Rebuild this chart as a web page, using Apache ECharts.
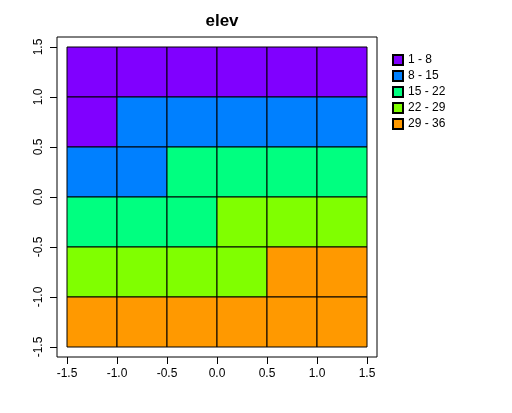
<!DOCTYPE html>
<html>
<head>
<meta charset="utf-8">
<script src="https://cdn.jsdelivr.net/npm/echarts@6/dist/echarts.min.js"></script>
<style>html,body{margin:0;background:#fff}#main{width:512px;height:413px}</style>
</head>
<body>
<div id="main"></div>
<script>
// class index per cell, rows from top (y 1.5) to bottom (y -1.5)
var grid = [
  [0, 0, 0, 0, 0, 0],
  [0, 1, 1, 1, 1, 1],
  [1, 1, 2, 2, 2, 2],
  [2, 2, 2, 3, 3, 3],
  [3, 3, 3, 3, 4, 4],
  [4, 4, 4, 4, 4, 4]
];
var classNames = ['1 - 8', '8 - 15', '15 - 22', '22 - 29', '29 - 36'];
var classColors = ['#8000ff', '#0080ff', '#00ff80', '#80ff00', '#ff9900'];
var ticks = [-1.5, -1.0, -0.5, 0.0, 0.5, 1.0, 1.5];
var cellSize = 0.5;

var series = classNames.map(function (name, k) {
  var data = [];
  grid.forEach(function (row, r) {
    row.forEach(function (c, col) {
      if (c === k) data.push([-1.5 + col * cellSize, 1.5 - r * cellSize]);
    });
  });
  return {
    name: name,
    type: 'custom',
    itemStyle: { color: classColors[k], borderColor: '#000', borderWidth: 1 },
    renderItem: function (params, api) {
      var p0 = api.coord([api.value(0), api.value(1)]);
      var p1 = api.coord([api.value(0) + cellSize, api.value(1) - cellSize]);
      return {
        type: 'rect',
        shape: { x: p0[0], y: p0[1], width: p1[0] - p0[0], height: p1[1] - p0[1] },
        style: { fill: classColors[k], stroke: '#000', lineWidth: 1 }
      };
    },
    data: data
  };
});

function axis(isY) {
  return {
    type: 'value', min: -1.6, max: 1.6,
    axisLine: { show: false, onZero: false },
    splitLine: { show: false },
    axisTick: { show: true, length: 7, customValues: ticks, lineStyle: { color: '#000' } },
    axisLabel: {
      customValues: ticks, color: '#000', fontSize: 12, fontFamily: 'Liberation Sans',
      rotate: isY ? 90 : 0, margin: isY ? 12 : 11,
      formatter: function (v) { return v.toFixed(1); }
    }
  };
}

var chart = echarts.init(document.getElementById('main'));
chart.setOption({
  animation: false,
  title: { text: 'elev', left: 217, top: 8, textAlign: 'center',
    textStyle: { fontSize: 17, fontWeight: 'bold', color: '#000', fontFamily: 'Liberation Sans' } },
  grid: { left: 57, right: 135, top: 37, bottom: 56, show: true, borderColor: '#000', borderWidth: 1 },
  xAxis: axis(false),
  yAxis: axis(true),
  legend: {
    orient: 'vertical', left: 387, top: 49, icon: 'rect', itemWidth: 10, itemHeight: 10,
    itemGap: 4, textStyle: { fontSize: 12, color: '#000', fontFamily: 'Liberation Sans' },
    data: classNames
  },
  series: series
});
</script>
</body>
</html>
